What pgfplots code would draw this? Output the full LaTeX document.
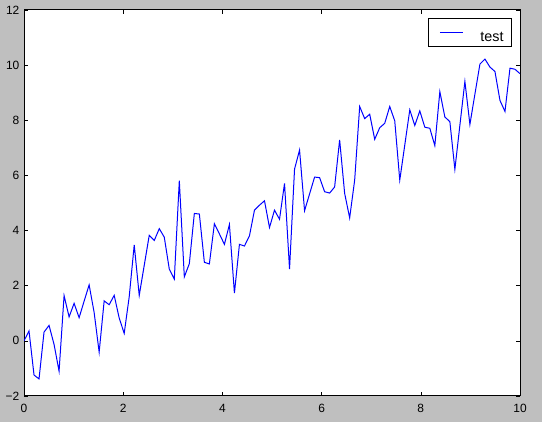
\documentclass[border=0pt]{standalone}
\usepackage{fontspec}
\setmainfont{Liberation Sans}
\usepackage{pgfplots}
\pgfplotsset{compat=1.18}
\definecolor{figbg}{HTML}{BFBFBF}
\begin{document}
\begin{tikzpicture}
\path[use as bounding box, fill=figbg] (0bp,0bp) rectangle (542bp,422bp);
\begin{axis}[
  at={(24bp,26bp)}, anchor=south west,
  scale only axis, width=496bp, height=386bp,
  xmin=0, xmax=10, ymin=-2, ymax=12,
  xtick={0,2,4,6,8,10}, ytick={-2,0,2,4,6,8,10,12},
  xticklabels={0,2,4,6,8,10},
  yticklabels={−2,0,2,4,6,8,10,12},
  tick align=inside, major tick length=4bp,
  tick style={black, line width=0.5bp},
  axis line style={black, line width=1bp},
  axis background/.style={fill=white},
  ticklabel style={font=\fontsize{12}{12}\selectfont, inner sep=0pt},
  xticklabel style={yshift=-8bp},
  yticklabel style={xshift=-4.5bp},
  legend style={at={(1,1)}, anchor=north east, xshift=-8bp, yshift=-8bp,
    draw=black, fill=white, line width=0.8bp, inner xsep=8bp, inner ysep=3bp,
    font=\fontsize{14.4}{14.4}\selectfont,
    nodes={inner sep=0pt, text height=20.4bp, text depth=2bp},
    /tikz/every odd column/.append style={column sep=17bp}},
  legend image code/.code={\path (0bp,0bp); \draw[#1] (3bp,0bp) -- (26bp,0bp);},
]
\addplot[blue, line width=1bp] table {
x y
0.0000 0.00
0.1010 0.36
0.2020 -1.24
0.3030 -1.38
0.4040 0.32
0.5051 0.56
0.6061 -0.13
0.7071 -1.10
0.8081 1.64
0.9091 0.87
1.0101 1.36
1.1111 0.84
1.2121 1.44
1.3131 2.03
1.4141 1.03
1.5152 -0.41
1.6162 1.45
1.7172 1.31
1.8182 1.65
1.9192 0.83
2.0202 0.27
2.1212 1.60
2.2222 3.48
2.3232 1.65
2.4242 2.74
2.5253 3.83
2.6263 3.64
2.7273 4.07
2.8283 3.76
2.9293 2.60
3.0303 2.24
3.1313 5.81
3.2323 2.32
3.3333 2.80
3.4343 4.62
3.5354 4.60
3.6364 2.85
3.7374 2.79
3.8384 4.25
3.9394 3.88
4.0404 3.50
4.1414 4.22
4.2424 1.73
4.3434 3.50
4.4444 3.44
4.5455 3.81
4.6465 4.74
4.7475 4.92
4.8485 5.08
4.9495 4.11
5.0505 4.74
5.1515 4.41
5.2525 5.71
5.3535 2.60
5.4545 6.23
5.5556 6.92
5.6566 4.72
5.7576 5.33
5.8586 5.94
5.9596 5.92
6.0606 5.41
6.1616 5.36
6.2626 5.58
6.3636 7.29
6.4646 5.35
6.5657 4.46
6.6667 5.83
6.7677 8.50
6.8687 8.06
6.9697 8.22
7.0707 7.31
7.1717 7.73
7.2727 7.89
7.3737 8.50
7.4747 7.98
7.5758 5.83
7.6768 7.10
7.7778 8.38
7.8788 7.81
7.9798 8.34
8.0808 7.75
8.1818 7.71
8.2828 7.08
8.3838 9.04
8.4848 8.12
8.5859 7.95
8.6869 6.22
8.7879 7.82
8.8889 9.41
8.9899 7.85
9.0909 8.95
9.1919 10.04
9.2929 10.22
9.3939 9.93
9.4949 9.77
9.5960 8.72
9.6970 8.32
9.7980 9.89
9.8990 9.85
10.0000 9.69
};
\addlegendentry{test}
\end{axis}
\end{tikzpicture}
\end{document}
